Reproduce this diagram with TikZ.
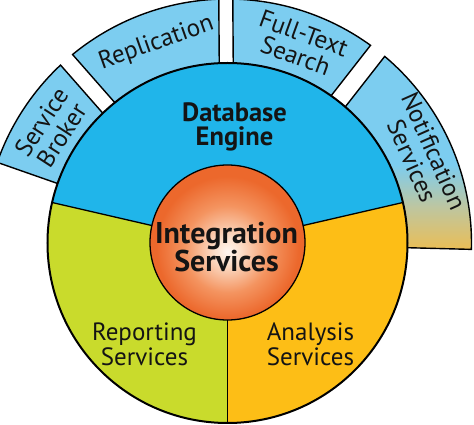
\documentclass[tikz,border=0pt]{standalone}
\usepackage{fontspec}
\setmainfont{PT Sans}
\begin{document}
\begin{tikzpicture}[x=1pt,y=1pt]
\definecolor{dbblue}{RGB}{32,181,234}
\definecolor{tabblue}{RGB}{124,205,240}
\definecolor{rsgreen}{RGB}{201,219,44}
\definecolor{asyellow}{RGB}{253,190,22}
\definecolor{tantone}{RGB}{234,190,86}
\definecolor{tanmid}{RGB}{190,198,160}
\definecolor{orbedge}{RGB}{236,104,44}
\definecolor{orbmid}{RGB}{244,148,96}
\definecolor{orblight}{RGB}{252,224,204}
\definecolor{inktext}{RGB}{20,20,20}
\pgfdeclareradialshading{orbshade}{\pgfpoint{0bp}{-3bp}}{color(0bp)=(white!70!orblight); color(4bp)=(orblight); color(14bp)=(orbmid); color(23bp)=(orbedge); color(25bp)=(orbedge); color(50bp)=(orbedge)}
\pgfdeclareverticalshading{notifshade}{100bp}{color(0bp)=(tantone); color(25bp)=(tantone); color(36bp)=(tanmid); color(47bp)=(tabblue); color(100bp)=(tabblue)}
\tikzset{
  tabbox/.style={draw=black, line width=1.4pt, fill=tabblue, line join=miter},
  divider/.style={draw=black, line width=1.3pt},
  lab/.style={font=\fontsize{25}{25}\selectfont, text=inktext, align=center, inner sep=0pt},
  tablab/.style={font=\fontsize{25}{24}\selectfont, text=inktext, align=center, inner sep=0pt},
  dblab/.style={font=\bfseries\fontsize{26.5}{24}\selectfont, text=inktext, align=center, inner sep=0pt},
  islab/.style={font=\bfseries\fontsize{30}{27.5}\selectfont, text=inktext, align=center, inner sep=0pt},
  orb/.style={circle, draw=black, line width=1.3pt, shading=orbshade, minimum size=155pt, inner sep=0pt}
}
\useasboundingbox (-227.5,-182) rectangle (246.5,243);
\def\Ro{244}
\def\Ri{176}
% Service Broker tab
\path[tabbox] (160.7:\Ro) arc[start angle=160.7, end angle={131.3+asin(8/\Ro)}, radius=\Ro]
  -- ({131.3+asin(8/\Ri)}:\Ri) arc[start angle={131.3+asin(8/\Ri)}, end angle=160.7, radius=\Ri] -- cycle;
% Replication tab
\path[tabbox] ({131.3-asin(8/\Ro)}:\Ro) arc[start angle={131.3-asin(8/\Ro)}, end angle={90.4+asin(7/\Ro)}, radius=\Ro]
  -- ({90.4+asin(7/\Ri)}:\Ri) arc[start angle={90.4+asin(7/\Ri)}, end angle={131.3-asin(8/\Ri)}, radius=\Ri] -- cycle;
% Full-Text Search tab
\path[tabbox] ({90.4-asin(7/\Ro)}:\Ro) arc[start angle={90.4-asin(7/\Ro)}, end angle={52+asin(9/\Ro)}, radius=\Ro]
  -- ({52+asin(9/\Ri)}:\Ri) arc[start angle={52+asin(9/\Ri)}, end angle={90.4-asin(7/\Ri)}, radius=\Ri] -- cycle;
% Notification Services tab (gradient)
\path[tabbox, shading=notifshade, shade] ({52-asin(9/\Ro)}:\Ro) arc[start angle={52-asin(9/\Ro)}, end angle=-1.5, radius=\Ro]
  -- (-1.5:\Ri) arc[start angle=-1.5, end angle={52-asin(9/\Ri)}, radius=\Ri] -- cycle;
% main sectors
\fill[dbblue] (0,0) -- (13:180) arc[start angle=13, end angle=167, radius=180] -- cycle;
\fill[rsgreen] (0,0) -- (167:180) arc[start angle=167, end angle=270, radius=180] -- cycle;
\fill[asyellow] (0,0) -- (270:180) arc[start angle=270, end angle=373, radius=180] -- cycle;
\coordinate (c) at (0,0);
\coordinate (d1) at (13:180);
\coordinate (d2) at (167:180);
\coordinate (d3) at (270:180);
\draw[divider] (c) -- (d1);
\draw[divider] (c) -- (d2);
\draw[divider] (c) -- (d3);
\draw[black, line width=2pt] (c) circle[radius=180];
% centre orb
\node[orb] (orb) at (0,0.5) {};
% labels
\node[islab] (is) at (-1,-4) {Integration\\Services};
\node[dblab] (db) at (7,116) {Database\\Engine};
\node[lab] (rs) at (-83,-101) {Reporting\\Services};
\node[lab] (as) at (83,-101) {Analysis\\Services};
\node[tablab, rotate=19.6] (rep) at (109.6:212) {Replication};
\node[tablab, rotate=57] (sb) at (147:210) {Service\\Broker};
\node[tablab, rotate=-20] (fts) at (70:211) {Full-Text\\Search};
\node[tablab, rotate=-66] (ns) at (24:214) {Notification\\Services};
\end{tikzpicture}
\end{document}
